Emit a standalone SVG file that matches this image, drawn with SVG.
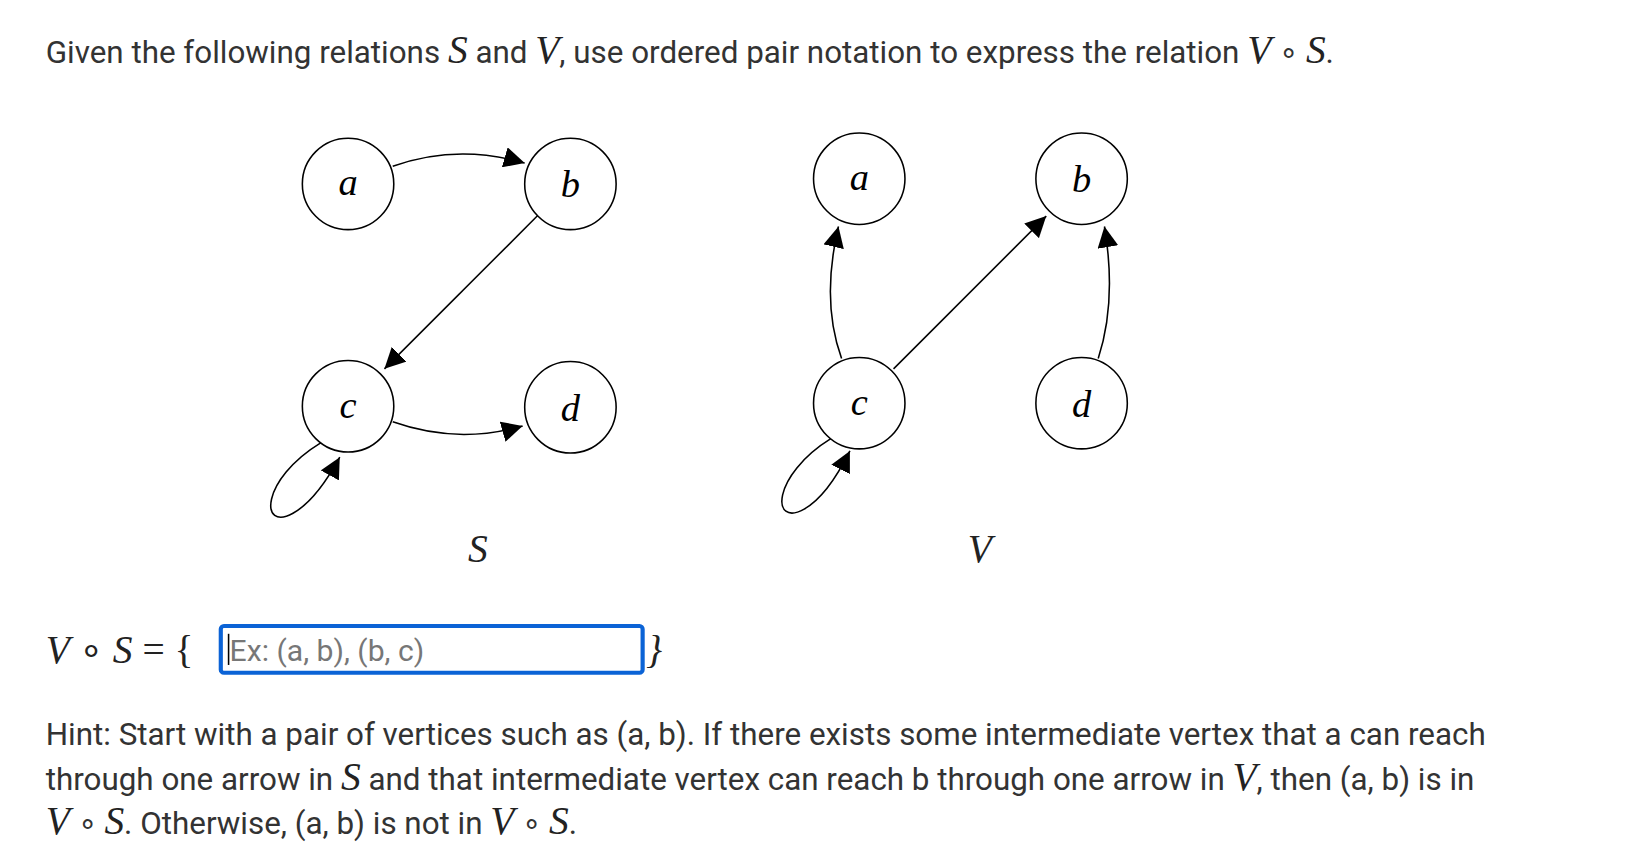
<svg xmlns="http://www.w3.org/2000/svg" width="1627" height="851" viewBox="0 0 1627 851">
<style>
.t{font-family:Roboto,"Liberation Sans",sans-serif;font-size:30.2px;fill:#333}
.m{font-family:"Liberation Serif",serif;font-style:italic;font-size:38px;fill:#222}
.n circle{fill:#fff;stroke:#000;stroke-width:1.5}
.n text{font-family:"Liberation Serif",serif;font-style:italic;font-size:37px;text-anchor:middle;fill:#000}
.e path{fill:none;stroke:#000;stroke-width:1.5;marker-end:url(#ah)}
</style>
<defs><marker id="ah" viewBox="0 0 10 10" refX="10" refY="5" markerWidth="20" markerHeight="20" markerUnits="userSpaceOnUse" orient="auto"><path d="M0,0L10,5L0,10z" fill="#000"/></marker></defs>
<rect width="1627" height="851" fill="#fff"/>
<g transform="scale(1.039)">
<text x="44" y="61" class="t">Given the following relations <tspan class="m">S</tspan> and <tspan class="m">V</tspan>, use ordered pair notation to express the relation <tspan class="m">V</tspan> ∘ <tspan class="m">S</tspan>.</text>
<g class="e" id="connectors">
<path d="M378,160 Q440,138 505,157"/>
<path d="M518,207 L370,355"/>
<path d="M378,406 Q440,428 503,410"/>
<path d="M309,426 C250,462 250,512 282,494 C300,484 315,462 327,440"/>
<path d="M810,345 Q790,290 807,218"/>
<path d="M860,355 L1007,208"/>
<path d="M1057,345 Q1075,290 1063,218"/>
<path d="M800,422 C742,458 742,508 774,490 C792,480 806,458 818,434"/>
</g>
<g class="n" id="S_a"><circle cx="335" cy="177" r="44"/><text x="335" y="188">a</text></g>
<g class="n" id="S_b"><circle cx="549" cy="177" r="44"/><text x="549" y="190">b</text></g>
<g class="n" id="S_c"><circle cx="335" cy="391" r="44"/><text x="335" y="402">c</text></g>
<g class="n" id="S_d"><circle cx="549" cy="392" r="44"/><text x="549" y="405">d</text></g>
<g class="n" id="V_a"><circle cx="827" cy="172" r="44"/><text x="827" y="183">a</text></g>
<g class="n" id="V_b"><circle cx="1041" cy="172" r="44"/><text x="1041" y="185">b</text></g>
<g class="n" id="V_c"><circle cx="827" cy="388" r="44"/><text x="827" y="399">c</text></g>
<g class="n" id="V_d"><circle cx="1041" cy="388" r="44"/><text x="1041" y="401">d</text></g>
<text x="460" y="541" class="m" text-anchor="middle">S</text>
<text x="943" y="541" class="m" text-anchor="middle">V</text>
<text x="44" y="638" class="m">V <tspan font-style="normal">∘</tspan> S <tspan font-style="normal">= {</tspan></text>
<rect x="212.5" y="602.5" width="406" height="45" rx="3" fill="#fff" stroke="#0b63d6" stroke-width="4"/>
<line x1="220" y1="610" x2="220" y2="640" stroke="#000" stroke-width="1.5"/>
<text x="221" y="636" font-family="Roboto,'Liberation Sans',sans-serif" font-size="29" fill="#777">Ex: (a, b), (b, c)</text>
<text x="622" y="638" class="m" font-style="normal">}</text>
<text x="44" y="717" class="t">Hint: Start with a pair of vertices such as (a, b). If there exists some intermediate vertex that a can reach</text>
<text x="44" y="760" class="t">through one arrow in <tspan class="m">S</tspan> and that intermediate vertex can reach b through one arrow in <tspan class="m">V</tspan>, then (a, b) is in</text>
<text x="44" y="803" class="t"><tspan class="m">V</tspan> ∘ <tspan class="m">S</tspan>. Otherwise, (a, b) is not in <tspan class="m">V</tspan> ∘ <tspan class="m">S</tspan>.</text>
</g>
</svg>
